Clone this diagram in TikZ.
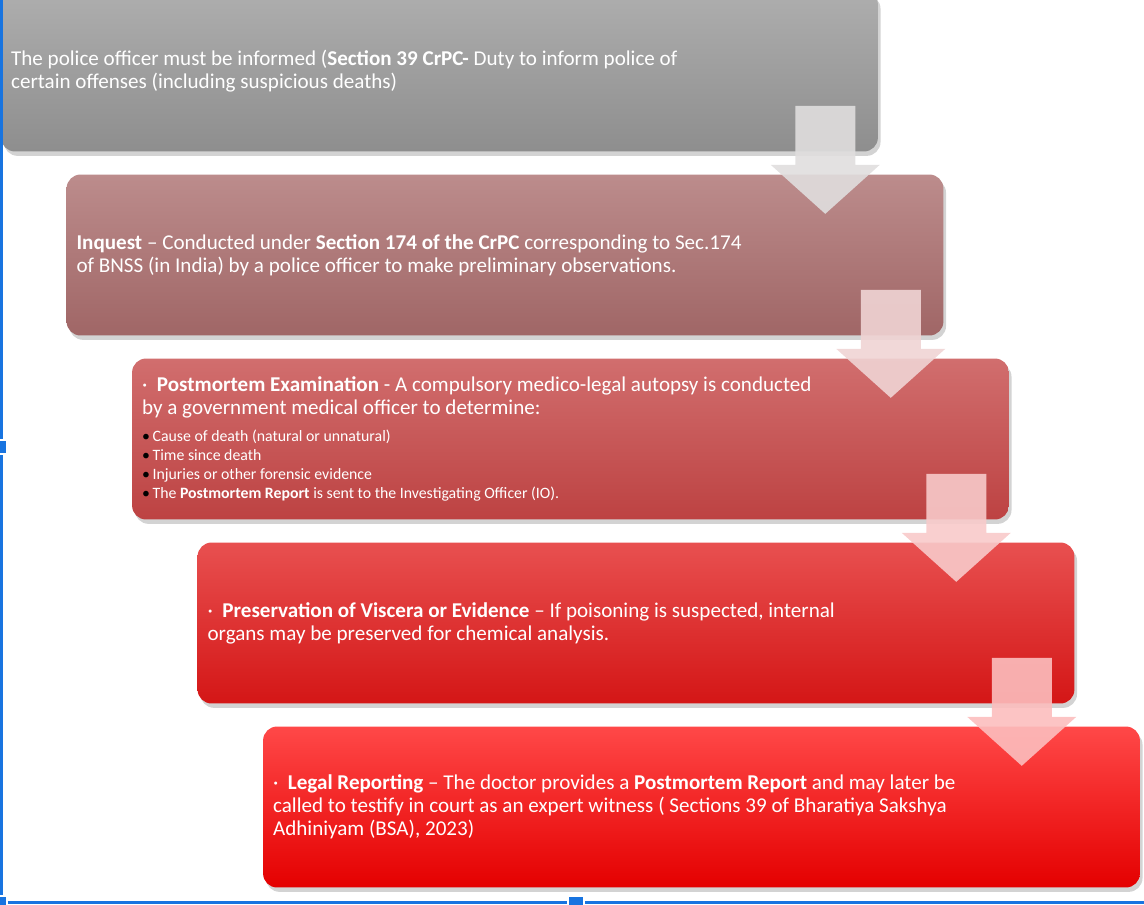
\documentclass[tikz,border=0pt]{standalone}
\usepackage{fontspec}
\setmainfont{Carlito}
\usepackage{tikz}
\usepackage{xcolor}
\usetikzlibrary{shapes}
\usetikzlibrary{shadows}
\usetikzlibrary{calc}
\usetikzlibrary{positioning, arrows.meta}

\definecolor{selblue}{RGB}{24,116,224}
\newcommand{\stagefont}{\fontsize{12}{13.2}\selectfont}
\newcommand{\listfont}{\fontsize{9}{10.9}\selectfont}

\tikzset{
    stagebox/.style={rectangle, rounded corners=0.28cm, text width=17.14cm, minimum height=3.22cm,
        inner xsep=0.2cm, inner ysep=0pt, align=flush left, text=white, font=\stagefont,
        drop shadow={shadow xshift=1.5pt, shadow yshift=-2.5pt, opacity=0.35}},
    blockarrow/.style={draw=none, fill opacity=0.9},
    handle/.style={fill=selblue, draw=white, line width=1pt}
}

\begin{document}
\begin{tikzpicture}[x=0.02cm, y=-0.02cm] % one unit is one pixel of the reference
                        \useasboundingbox (0,0) rectangle (1144,904);

                        % The five stages, each one step lower and further right
                        \node[stagebox, top color={rgb,255:red,174;green,174;blue,174}, bottom color={rgb,255:red,142;green,142;blue,142}] (BoxInform) at (439.5,71)
                            {The police officer must be informed (\textbf{Section 39 CrPC-} Duty to inform police of\\ certain offenses (including suspicious deaths)};
                        \node[stagebox, top color={rgb,255:red,188;green,140;blue,140}, bottom color={rgb,255:red,160;green,102;blue,102}] (BoxInquest) at (505,255)
                            {\textbf{Inquest} – Conducted under \textbf{Section 174 of the CrPC} corresponding to Sec.174\\ of BNSS (in India) by a police officer to make preliminary observations.};
                        \node[stagebox, top color={rgb,255:red,209;green,110;blue,110}, bottom color={rgb,255:red,189;green,66;blue,66}] (BoxPM) at (570.5,439)
                            {·\ \ \textbf{Postmortem Examination} - A compulsory medico-legal autopsy is conducted\\ by a government medical officer to determine:\par
                             \vspace{4.5pt}
                             {\listfont \textcolor{black}{•}\,Cause of death (natural or unnatural)\\
                              \textcolor{black}{•}\,Time since death\\
                              \textcolor{black}{•}\,Injuries or other forensic evidence\\
                              \textcolor{black}{•}\,The \textbf{Postmortem Report} is sent to the Investigating Officer (IO).\par}};
                        \node[stagebox, top color={rgb,255:red,232;green,80;blue,80}, middle color={rgb,255:red,226;green,34;blue,34}, bottom color={rgb,255:red,212;green,22;blue,22}] (BoxViscera) at (636,623)
                            {·\ \ \textbf{Preservation of Viscera or Evidence} – If poisoning is suspected, internal\\ organs may be preserved for chemical analysis.};
                        \node[stagebox, top color={rgb,255:red,255;green,72;blue,72}, middle color={rgb,255:red,254;green,0;blue,0}, bottom color={rgb,255:red,228;green,0;blue,0}] (BoxLegal) at (701.5,807)
                            {·\ \ \textbf{Legal Reporting} – The doctor provides a \textbf{Postmortem Report} and may later be\\ called to testify in court as an expert witness ( Sections 39 of Bharatiya Sakshya\\ Adhiniyam (BSA), 2023)};

                        % Block arrows between the stages
                        \fill[blockarrow, fill={rgb,255:red,224;green,222;blue,222}] ($(BoxInform.south east)+(-83,-46)$)
                            -- ++(60,0) -- ++(0,59) -- ++(24.5,0) -- ++(-54.5,49) -- ++(-54.5,-49) -- ++(24.5,0) -- cycle;
                        \fill[blockarrow, fill={rgb,255:red,240;green,212;blue,212}] ($(BoxInquest.south east)+(-83,-46)$)
                            -- ++(60,0) -- ++(0,59) -- ++(24.5,0) -- ++(-54.5,49) -- ++(-54.5,-49) -- ++(24.5,0) -- cycle;
                        \fill[blockarrow, fill={rgb,255:red,248;green,202;blue,202}] ($(BoxPM.south east)+(-83,-46)$)
                            -- ++(60,0) -- ++(0,59) -- ++(24.5,0) -- ++(-54.5,49) -- ++(-54.5,-49) -- ++(24.5,0) -- cycle;
                        \fill[blockarrow, fill={rgb,255:red,252;green,190;blue,190}] ($(BoxViscera.south east)+(-83,-46)$)
                            -- ++(60,0) -- ++(0,59) -- ++(24.5,0) -- ++(-54.5,49) -- ++(-54.5,-49) -- ++(24.5,0) -- cycle;

                        % Selection frame of the picture
                        \fill[selblue] (0,0) rectangle (3,904);
                        \fill[selblue] (0,901) rectangle (1144,904);
                        \draw[handle] (-7,440) rectangle (7,454);
                        \draw[handle] (-7,896) rectangle (7,910);
                        \draw[handle] (568,896) rectangle (584,910);

                    \end{tikzpicture}
\end{document}
